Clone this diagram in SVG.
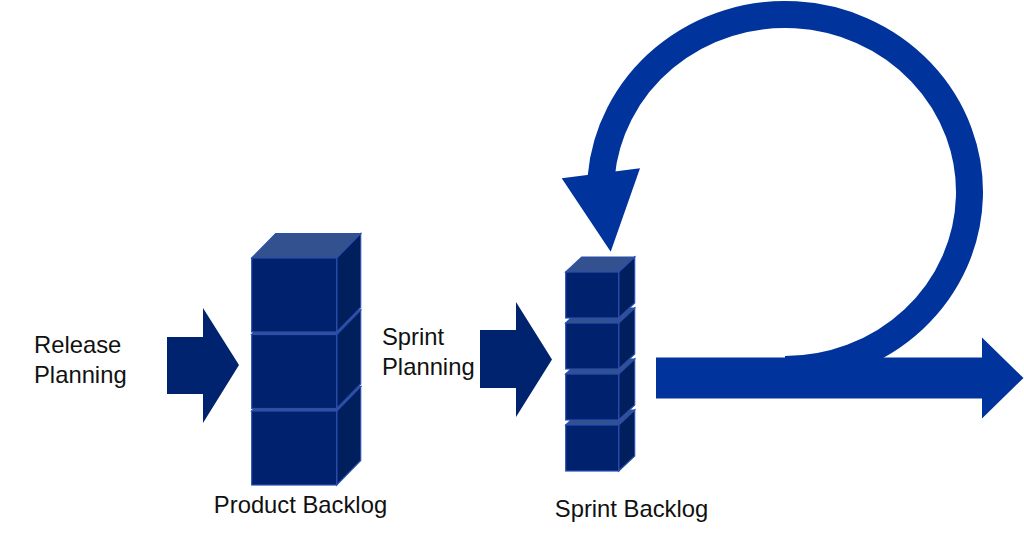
<svg xmlns="http://www.w3.org/2000/svg" xmlns:xlink="http://www.w3.org/1999/xlink" width="1024" height="539" viewBox="0 0 1024 539">
  <style>
    .lbl { font-family: "Liberation Sans", Arial, sans-serif; font-size: 23.8px; fill: #111111; }
    .front { fill: #00226e; stroke: #2a4fae; stroke-width: 1.2; }
    .top { fill: #34518f; stroke: #2a4fae; stroke-width: 1.2; }
    .side { fill: #001f5c; stroke: #2a4fae; stroke-width: 1.2; }
    .navy { fill: #00236f; }
    .blue { fill: #00349c; }
  </style>
  <defs>
    <g id="cubeL">
      <polygon class="top" points="0,0 24,-24.5 109,-24.5 85,0"/>
      <polygon class="side" points="85,0 109,-24.5 109,49.5 85,74"/>
      <rect class="front" x="0" y="0" width="85" height="74"/>
    </g>
    <g id="cubeS">
      <polygon class="top" points="0,0 16,-15 69,-15 53,0"/>
      <polygon class="side" points="53,0 69,-15 69,31 53,46"/>
      <rect class="front" x="0" y="0" width="53" height="46"/>
    </g>
  </defs>
  <rect width="1024" height="539" fill="#ffffff"/>

  <g id="connectors">
    <polygon id="release-arrow" class="navy" points="167,337 203,337 203,308 239,365 203,423 203,394 167,394"/>
    <polygon id="sprint-planning-arrow" class="navy" points="480,330 516,330 516,302 552,359.5 516,417 516,388 480,388"/>
    <g id="sprint-loop">
      <path d="M 601.2 176.5 A 184.5 177.5 0 1 1 785 369.5" fill="none" stroke="#00349c" stroke-width="27"/>
      <polygon class="blue" points="561.7,178.3 640,168.3 610.7,251.7"/>
    </g>
    <polygon id="output-arrow" class="blue" points="656,357.5 982,357.5 982,337.5 1023.5,378 982,418.5 982,398.5 656,398.5"/>
  </g>

  <g id="release-planning">
    <text class="lbl" x="34" y="353">Release</text>
    <text class="lbl" x="34" y="383">Planning</text>
  </g>

  <g id="product-backlog">
    <use xlink:href="#cubeL" x="251.7" y="411"/>
    <use xlink:href="#cubeL" x="251.7" y="334.5"/>
    <use xlink:href="#cubeL" x="251.7" y="258"/>
    <text class="lbl" x="300.5" y="513" text-anchor="middle">Product Backlog</text>
  </g>

  <g id="sprint-planning">
    <text class="lbl" x="382" y="345">Sprint</text>
    <text class="lbl" x="382" y="375">Planning</text>
  </g>

  <g id="sprint-backlog">
    <use xlink:href="#cubeS" x="565.7" y="425"/>
    <use xlink:href="#cubeS" x="565.7" y="374"/>
    <use xlink:href="#cubeS" x="565.7" y="323"/>
    <use xlink:href="#cubeS" x="565.7" y="272"/>
    <text class="lbl" x="631.5" y="517" text-anchor="middle">Sprint Backlog</text>
  </g>
</svg>
